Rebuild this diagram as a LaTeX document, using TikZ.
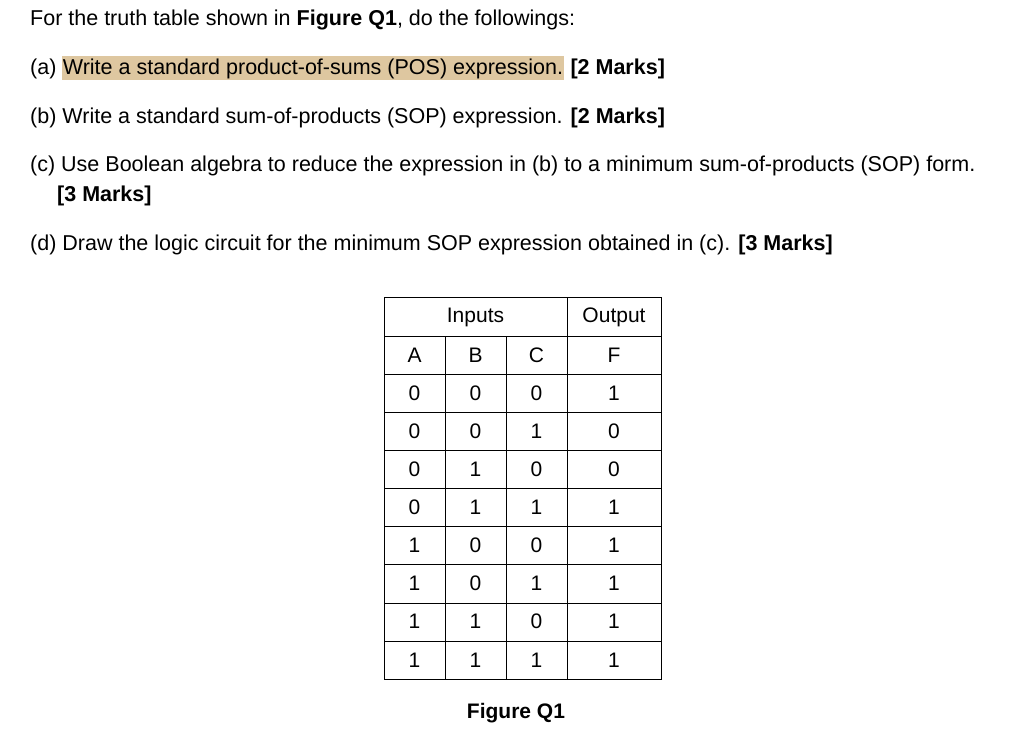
\documentclass[tikz,border=0pt]{standalone}
\usepackage{fontspec}
\setmainfont{Liberation Sans}
\begin{document}
\begin{tikzpicture}[x=1pt,y=-1pt,
  txt/.style={anchor=west,inner sep=0pt,font=\fontsize{21.5}{24}\selectfont},
  hl/.style={txt,anchor=base west,fill={rgb,255:red,222;green,199;blue,160},inner xsep=1pt,text depth=5pt,text height=19pt},
  cell/.style={font=\fontsize{21}{24}\selectfont,inner sep=0pt}]
\useasboundingbox (0,0) rectangle (1024,755);
\fill[white] (0,0) rectangle (1024,755);
\node[txt] (l1) at (30,20) {For the truth table shown in \textbf{Figure Q1}, do the followings:};
\node[txt] (la) at (30,69) {(a)\vphantom{W}};
\node[hl] (lah) at ([xshift=5pt]la.base east) {Write a standard product-of-sums (POS) expression.};
\node[txt,anchor=base west] (la2) at ([xshift=6pt]lah.base east) {\textbf{[2 Marks]}};
\node[txt] (lb) at (30,118) {(b) Write a standard sum-of-products (SOP) expression. \textbf{[2 Marks]}};
\node[txt] (lc) at (30,166) {(c) Use Boolean algebra to reduce the expression in (b) to a minimum sum-of-products (SOP) form.};
\node[txt] (lc2) at (57,196) {\textbf{[3 Marks]}};
\node[txt] (ld) at (30,245) {(d) Draw the logic circuit for the minimum SOP expression obtained in (c). \textbf{[3 Marks]}};
% table
\draw[line width=0.8pt] (384,297) rectangle (661,679);
\foreach \y in {336,374,412,450,488,526,564,603,641} \draw[line width=0.8pt] (384,\y) -- (661,\y);
\draw[line width=0.8pt] (567,297) -- (567,679);
\draw[line width=0.8pt] (445,336) -- (445,679);
\draw[line width=0.8pt] (506,336) -- (506,679);
\node[cell] (hin) at (475.5,317) {Inputs};
\node[cell] (hout) at (614,317) {Output};
\foreach \a/\b/\c/\f [count=\i from 0] in {A/B/C/F,0/0/0/1,0/0/1/0,0/1/0/0,0/1/1/1,1/0/0/1,1/0/1/1,1/1/0/1,1/1/1/1}{
  \pgfmathsetmacro\yy{355+38.1*\i}
  \node[cell] (a\i) at (414.5,\yy) {\a};
  \node[cell] (b\i) at (475.5,\yy) {\b};
  \node[cell] (c\i) at (536.5,\yy) {\c};
  \node[cell] (f\i) at (614,\yy) {\f};
}
\node[cell,font=\fontsize{21}{24}\selectfont\bfseries] (fig) at (516,713) {Figure Q1};
\end{tikzpicture}
\end{document}
